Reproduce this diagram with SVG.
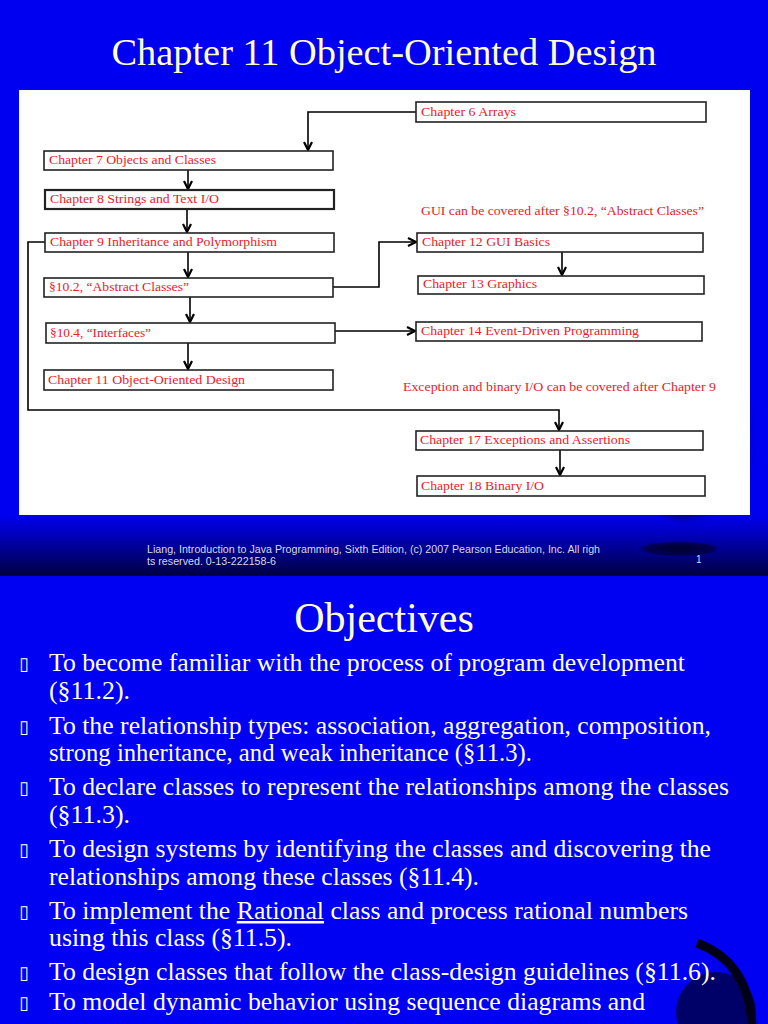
<svg xmlns="http://www.w3.org/2000/svg" width="768" height="1024" viewBox="0 0 768 1024">
<defs>
<style>
.bx{fill:#fff;stroke:#222;stroke-width:1.6}
.lb{font-family:"Liberation Serif",serif;font-size:13px;fill:#e8202a}
.cn{fill:none;stroke:#000;stroke-width:1.6}
.bt{font-family:"Liberation Serif",serif;font-size:25px;fill:#fff}
.bu{font-family:"DejaVu Sans",sans-serif;font-size:18px;fill:#fff}
.ft{font-family:"Liberation Sans",sans-serif;font-size:10px;fill:#d8d8e8}
</style>
<marker id="ah" viewBox="0 0 10 10" refX="9" refY="5" markerWidth="10" markerHeight="10" markerUnits="userSpaceOnUse" orient="auto">
<path d="M1,1 L9,5 L1,9" fill="none" stroke="#000" stroke-width="2.2"/>
</marker>
<linearGradient id="band" x1="0" y1="0" x2="0" y2="1">
<stop offset="0" stop-color="#0000f0"/>
<stop offset="0.3" stop-color="#0000c0"/>
<stop offset="1" stop-color="#000040"/>
</linearGradient>
<radialGradient id="orb" cx="0.45" cy="0.5" r="0.5">
<stop offset="0" stop-color="#000060"/>
<stop offset="0.85" stop-color="#000070"/>
<stop offset="1" stop-color="#0000d0" stop-opacity="0.3"/>
</radialGradient>
<radialGradient id="lens" cx="0.6" cy="0.5" r="0.5">
<stop offset="0" stop-color="#000030"/>
<stop offset="0.7" stop-color="#000050"/>
<stop offset="1" stop-color="#0000c0" stop-opacity="0"/>
</radialGradient>
</defs>

<!-- slide 1 -->
<rect x="0" y="0" width="768" height="576" fill="#0000f0"/>
<rect x="0" y="515" width="768" height="61" fill="url(#band)"/>
<ellipse cx="690" cy="437" rx="68" ry="88" fill="url(#orb)"/>
<ellipse cx="670" cy="549" rx="48" ry="9" fill="url(#lens)"/>
<text x="384" y="65" text-anchor="middle" font-family="Liberation Serif, serif" font-size="38" textLength="545" lengthAdjust="spacingAndGlyphs" fill="#ffffc8">Chapter 11 Object-Oriented Design</text>
<rect x="19" y="90" width="731" height="425" fill="#fff"/>

<g id="connectors">
<polyline class="cn" points="416,112 308,112 308,150" marker-end="url(#ah)"/>
<line class="cn" x1="188" y1="170" x2="188" y2="189" marker-end="url(#ah)"/>
<line class="cn" x1="187" y1="209" x2="187" y2="232" marker-end="url(#ah)"/>
<line class="cn" x1="188" y1="252" x2="188" y2="277" marker-end="url(#ah)"/>
<line class="cn" x1="190" y1="297" x2="190" y2="322" marker-end="url(#ah)"/>
<line class="cn" x1="188" y1="343" x2="188" y2="369" marker-end="url(#ah)"/>
<polyline class="cn" points="331,287 379,287 379,242 416,242" marker-end="url(#ah)"/>
<line class="cn" x1="562" y1="252" x2="562" y2="275" marker-end="url(#ah)"/>
<line class="cn" x1="333" y1="331" x2="415" y2="331" marker-end="url(#ah)"/>
<polyline class="cn" points="45,242 28,242 28,410 559,410 559,430" marker-end="url(#ah)"/>
<line class="cn" x1="560" y1="450" x2="560" y2="475" marker-end="url(#ah)"/>
</g>

<g id="ch6"><rect class="bx" x="416" y="102" width="290" height="20"/><text class="lb" x="421" y="116" textLength="95" lengthAdjust="spacingAndGlyphs">Chapter 6 Arrays</text></g>
<g id="ch7"><rect class="bx" x="44" y="151" width="289" height="19"/><text class="lb" x="49" y="164" textLength="167" lengthAdjust="spacingAndGlyphs">Chapter 7 Objects and Classes</text></g>
<g id="ch8"><rect class="bx" x="45" y="190" width="289" height="19" style="stroke-width:2.2"/><text class="lb" x="50" y="203" textLength="169" lengthAdjust="spacingAndGlyphs">Chapter 8 Strings and Text I/O</text></g>
<g id="ch9"><rect class="bx" x="45" y="233" width="289" height="19"/><text class="lb" x="50" y="246" textLength="227" lengthAdjust="spacingAndGlyphs">Chapter 9 Inheritance and Polymorphism</text></g>
<g id="s102"><rect class="bx" x="44" y="278" width="289" height="19"/><text class="lb" x="49" y="291" textLength="140" lengthAdjust="spacingAndGlyphs">§10.2, “Abstract Classes”</text></g>
<g id="s104"><rect class="bx" x="46" y="323" width="289" height="20"/><text class="lb" x="50" y="337" textLength="101" lengthAdjust="spacingAndGlyphs">§10.4, “Interfaces”</text></g>
<g id="ch11"><rect class="bx" x="44" y="370" width="289" height="20"/><text class="lb" x="48" y="384" textLength="197" lengthAdjust="spacingAndGlyphs">Chapter 11 Object-Oriented Design</text></g>
<g id="note-gui"><text class="lb" x="421" y="215" textLength="283" lengthAdjust="spacingAndGlyphs">GUI can be covered after §10.2, “Abstract Classes”</text></g>
<g id="ch12"><rect class="bx" x="417" y="233" width="286" height="19"/><text class="lb" x="422" y="246" textLength="128" lengthAdjust="spacingAndGlyphs">Chapter 12 GUI Basics</text></g>
<g id="ch13"><rect class="bx" x="418" y="276" width="286" height="18"/><text class="lb" x="423" y="288" textLength="114" lengthAdjust="spacingAndGlyphs">Chapter 13 Graphics</text></g>
<g id="ch14"><rect class="bx" x="416" y="322" width="286" height="19"/><text class="lb" x="421" y="335" textLength="218" lengthAdjust="spacingAndGlyphs">Chapter 14 Event-Driven Programming</text></g>
<g id="note-exc"><text class="lb" x="403" y="391" textLength="313" lengthAdjust="spacingAndGlyphs">Exception and binary I/O can be covered after Chapter 9</text></g>
<g id="ch17"><rect class="bx" x="416" y="431" width="287" height="19"/><text class="lb" x="420" y="444" textLength="210" lengthAdjust="spacingAndGlyphs">Chapter 17 Exceptions and Assertions</text></g>
<g id="ch18"><rect class="bx" x="417" y="476" width="288" height="20"/><text class="lb" x="421" y="490" textLength="123" lengthAdjust="spacingAndGlyphs">Chapter 18 Binary I/O</text></g>

<text class="ft" x="147" y="553" textLength="453" lengthAdjust="spacingAndGlyphs">Liang, Introduction to Java Programming, Sixth Edition, (c) 2007 Pearson Education, Inc. All righ</text>
<text class="ft" x="147" y="565" textLength="129" lengthAdjust="spacingAndGlyphs">ts reserved. 0-13-222158-6</text>
<text class="ft" x="696" y="563" font-size="11">1</text>

<!-- slide 2 -->
<rect x="0" y="576" width="768" height="448" fill="#0000f2"/>
<g id="globe">
<circle cx="716" cy="1012" r="40" fill="#00005a" opacity="0.9"/>
<path d="M697,943 Q748,962 752,1024" fill="none" stroke="#000018" stroke-width="9"/>
</g>
<text x="384" y="632" text-anchor="middle" font-family="Liberation Serif, serif" font-size="42" fill="#ffffc8">Objectives</text>

<g id="bullets">
<text class="bu" x="19" y="670">▯</text>
<text class="bt" x="49" y="671" textLength="636" lengthAdjust="spacingAndGlyphs">To become familiar with the process of program development</text>
<text class="bt" x="49" y="699" textLength="81" lengthAdjust="spacingAndGlyphs">(§11.2).</text>
<text class="bu" x="19" y="733">▯</text>
<text class="bt" x="49" y="734" textLength="662" lengthAdjust="spacingAndGlyphs">To the relationship types: association, aggregation, composition,</text>
<text class="bt" x="49" y="761" textLength="483" lengthAdjust="spacingAndGlyphs">strong inheritance, and weak inheritance (§11.3).</text>
<text class="bu" x="19" y="794">▯</text>
<text class="bt" x="49" y="795" textLength="680" lengthAdjust="spacingAndGlyphs">To declare classes to represent the relationships among the classes</text>
<text class="bt" x="49" y="823" textLength="81" lengthAdjust="spacingAndGlyphs">(§11.3).</text>
<text class="bu" x="19" y="856">▯</text>
<text class="bt" x="49" y="857" textLength="662" lengthAdjust="spacingAndGlyphs">To design systems by identifying the classes and discovering the</text>
<text class="bt" x="49" y="885" textLength="430" lengthAdjust="spacingAndGlyphs">relationships among these classes (§11.4).</text>
<text class="bu" x="19" y="918">▯</text>
<text class="bt" x="49" y="919" textLength="639" lengthAdjust="spacingAndGlyphs">To implement the <tspan text-decoration="underline">Rational</tspan> class and process rational numbers</text>
<text class="bt" x="49" y="946" textLength="243" lengthAdjust="spacingAndGlyphs">using this class (§11.5).</text>
<text class="bu" x="19" y="979">▯</text>
<text class="bt" x="49" y="980" textLength="667" lengthAdjust="spacingAndGlyphs">To design classes that follow the class-design guidelines (§11.6).</text>
<text class="bu" x="19" y="1009">▯</text>
<text class="bt" x="49" y="1010" textLength="596" lengthAdjust="spacingAndGlyphs">To model dynamic behavior using sequence diagrams and</text>
</g>
</svg>
